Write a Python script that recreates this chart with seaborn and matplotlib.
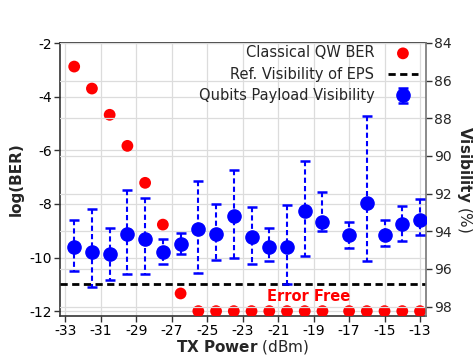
import matplotlib
matplotlib.use("Agg")
import matplotlib.pyplot as plt
import seaborn as sns
import numpy as np
import pandas as pd

# ---- data ----
tx_power = [-32.5, -31.5, -30.5, -29.5, -28.5, -27.5, -26.5, -25.5, -24.5, -23.5,
            -22.5, -21.5, -20.5, -19.5, -18.5, -17, -16, -15, -14, -13]
log_ber = [-2.87, -3.69, -4.67, -5.83, -7.21, -8.77, -11.34, -12, -12, -12,
           -12, -12, -12, -12, -12, -12, -12, -12, -12, -12]
vis_mean = [94.83, 95.12, 95.21, 94.12, 94.43, 95.12, 94.67, 93.90, 94.12, 93.18,
            94.31, 94.83, 94.83, 92.91, 93.52, 94.22, 92.50, 94.22, 93.61, 93.41]
vis_low = [93.41, 92.81, 93.80, 91.79, 92.23, 94.42, 94.08, 91.33, 92.53, 90.73,
           92.70, 93.80, 92.62, 90.26, 91.90, 93.53, 87.85, 93.41, 92.67, 92.30]
vis_high = [96.10, 96.98, 96.59, 96.29, 96.29, 95.71, 95.21, 96.20, 95.53, 95.41,
            95.71, 95.58, 96.80, 95.32, 93.98, 94.88, 95.58, 94.79, 94.49, 94.21]
ref_visibility = 96.82
x_ticks = [-33, -31, -29, -27, -25, -23, -21, -19, -17, -15, -13]
ber_ticks = [-2, -4, -6, -8, -10, -12]
vis_ticks = [84, 86, 88, 90, 92, 94, 96, 98]

df = pd.DataFrame({"tx": tx_power, "ber": log_ber, "vis": vis_mean,
                   "lo": vis_low, "hi": vis_high})

sns.set_style("whitegrid")
plt.rcParams["font.family"] = ["DejaVu Sans"]
plt.rcParams["axes.unicode_minus"] = False
plt.rcParams["mathtext.fontset"] = "dejavusans"

fig = plt.figure(figsize=(4.74, 3.55), dpi=100)
ax1 = fig.add_axes([60/474, 1-315.7/355, (425.7-60)/474, (315.7-43)/355])

grid_kw = dict(color="#dcdcdc", linewidth=0.9)

sns.scatterplot(data=df, x="tx", y="ber", ax=ax1, color="#ff0000", s=72,
                edgecolor="none", label="Classical QW BER", legend=False, zorder=3)
ax1.set_xlim(-33.3, -12.68)
ax1.set_ylim(-12.17, -1.99)
ax1.set_xticks(x_ticks)
ax1.set_xticklabels([str(t) for t in x_ticks])
ax1.set_yticks(ber_ticks)
ax1.set_yticklabels([str(t) for t in ber_ticks])
ax1.grid(True, **grid_kw)
ax1.set_axisbelow(True)
ax1.set_xlabel(r"$\bf{TX\ Power}$ (dBm)", fontsize=11, labelpad=0)
ax1.set_ylabel("log(BER)", fontsize=11, fontweight="bold", labelpad=4)
ax1.tick_params(axis="both", which="major", labelsize=10, length=4, width=1,
                color="#333333", left=True, bottom=True, pad=2, labelcolor="black")
for side in ["left", "bottom", "top"]:
    ax1.spines[side].set_color("#333333")
    ax1.spines[side].set_linewidth(1.2)
ax1.spines["right"].set_visible(False)

ax1.text(-19.3, -11.45, "Error Free", color="#ff0000", fontsize=10.5,
         fontweight="bold", ha="center", va="center")

ax2 = ax1.twinx()
ax2.set_ylim(98.48, 84.0)
ax2.set_yticks(vis_ticks)
ax2.set_yticklabels([str(t) for t in vis_ticks])
ax2.grid(True, axis="y", **grid_kw)
ax2.set_axisbelow(True)
ref = ax2.axhline(ref_visibility, color="black", linewidth=2, dashes=(2.6, 1.6),
                  label="Ref. Visibility of EPS", zorder=2)
yerr = np.array([df["vis"] - df["lo"], df["hi"] - df["vis"]])
eb = ax2.errorbar(df["tx"], df["vis"], yerr=yerr, fmt="o", color="#0000ff",
                  markersize=9.5, ecolor="#0000ff", elinewidth=1.5, capsize=3.5,
                  capthick=1.8, label="Qubits Payload Visibility", zorder=4)
eb[2][0].set_linestyle((0, (2.5, 1.5)))
ax2.set_ylabel(r"$\bf{Visibility}$ (%)", fontsize=11, rotation=270, labelpad=16)
ax2.tick_params(axis="y", labelsize=10, length=4, width=1, color="#333333",
                right=True, pad=2)
for side in ["left", "bottom", "top"]:
    ax2.spines[side].set_visible(False)
ax2.spines["right"].set_color("#777777")
ax2.spines["right"].set_linewidth(1.2)

h1, l1 = ax1.get_legend_handles_labels()
h2, l2 = ax2.get_legend_handles_labels()
handles = h1 + h2
labels = l1 + l2
order = [labels.index("Classical QW BER"), labels.index("Ref. Visibility of EPS"),
         labels.index("Qubits Payload Visibility")]
leg = ax2.legend([handles[i] for i in order], [labels[i] for i in order],
                 loc="upper right", bbox_to_anchor=(1 - 6/365.7, 1.0),
                 frameon=False, markerfirst=False, fontsize=10.5,
                 labelspacing=0.45, handlelength=2.0, borderaxespad=0.0,
                 borderpad=0.15, handletextpad=0.95)

fig.savefig("out.png", dpi=100)
